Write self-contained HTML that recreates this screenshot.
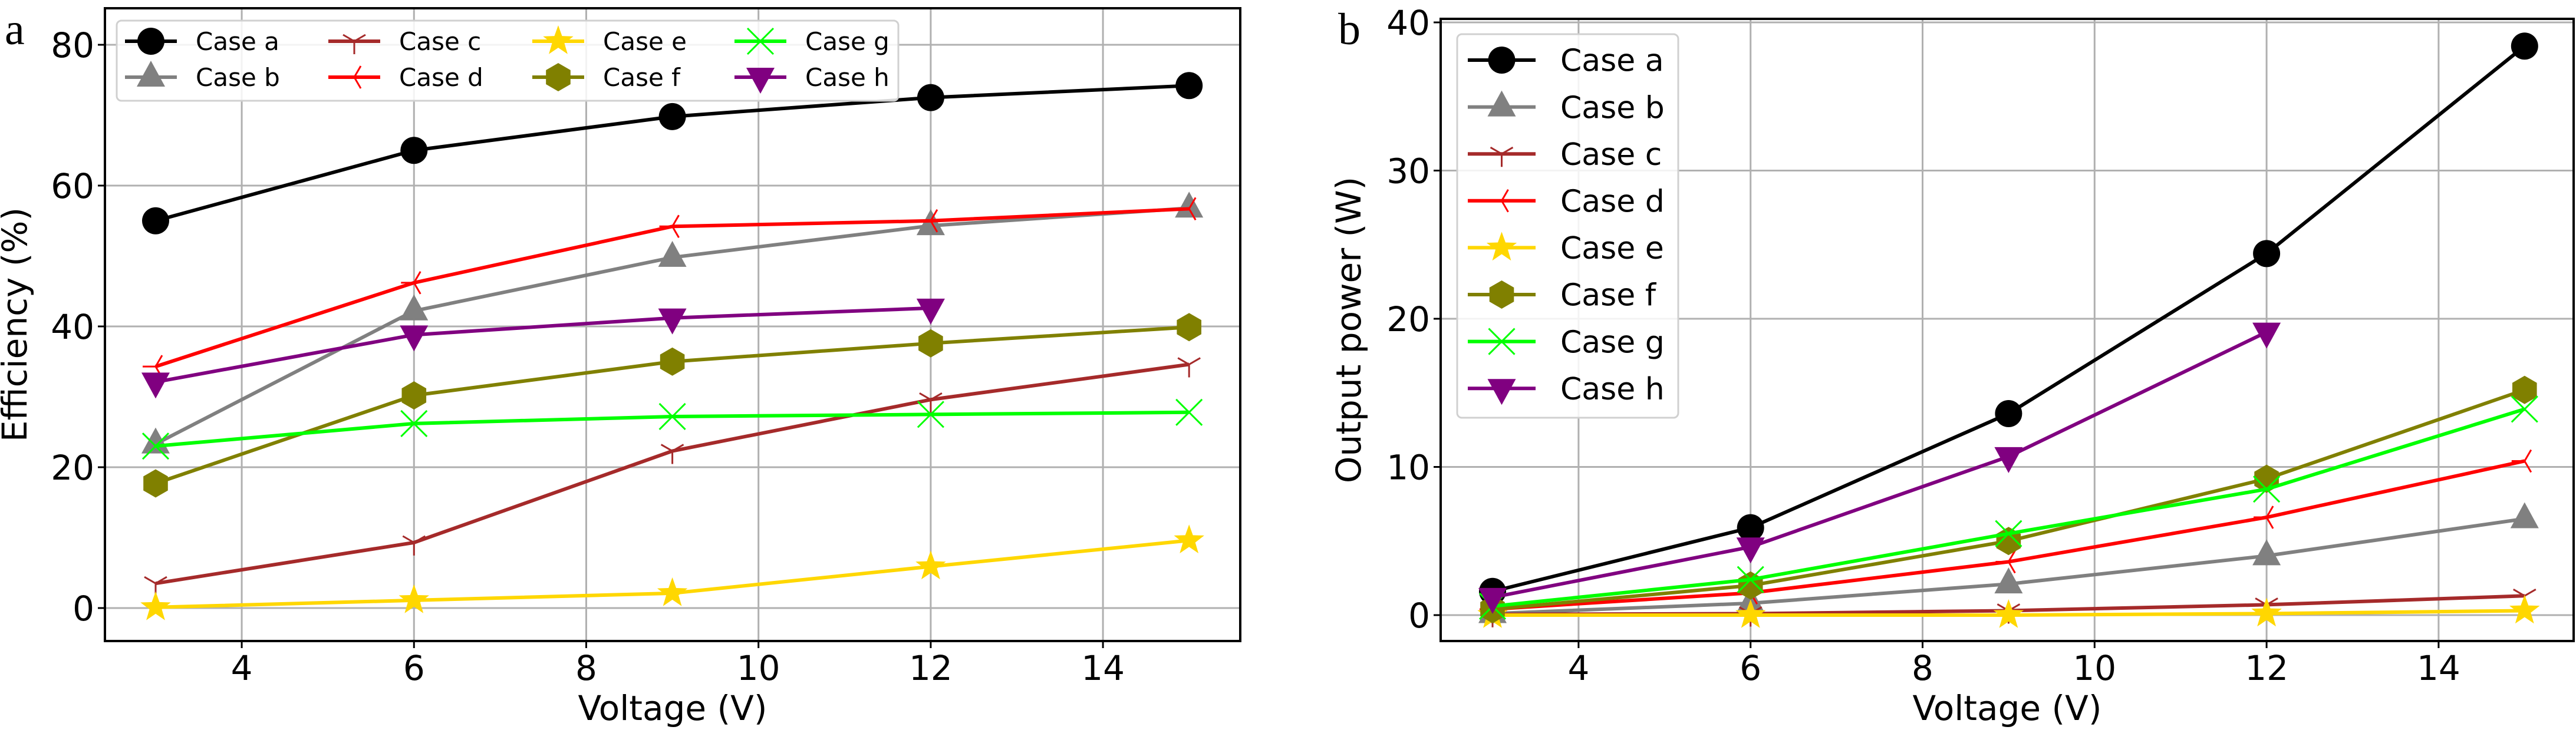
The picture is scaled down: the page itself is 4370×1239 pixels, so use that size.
<!DOCTYPE html>
<html><head><meta charset="utf-8"><style>
html,body{margin:0;padding:0;background:#fff;}
svg{display:block;}
text{font-family:"DejaVu Sans","Liberation Sans",sans-serif;}
.serif{font-family:"Liberation Serif",serif;}
</style></head><body>
<svg id="s" width="4370" height="1239" viewBox="0 0 4370 1239" xmlns="http://www.w3.org/2000/svg"></svg>
<script>
const S=document.getElementById('s');let h='';
const C={a:'#000000',b:'#808080',c:'#a52a2a',d:'#ff0000',e:'#ffd700',f:'#808000',g:'#00ff00',h:'#800080'};
function marker(k,x,y,col){
 switch(k){
 case 'a':return `<circle cx="${x}" cy="${y}" r="23" fill="${col}"/>`;
 case 'b':return `<polygon points="${x},${y-28} ${x+24},${y+16} ${x-24},${y+16}" fill="${col}"/>`;
 case 'h':return `<polygon points="${x},${y+28} ${x+24},${y-16} ${x-24},${y-16}" fill="${col}"/>`;
 case 'c':return `<path d="M${x},${y}V${y+22}M${x},${y}L${x-19},${y-11}M${x},${y}L${x+19},${y-11}" stroke="${col}" stroke-width="3" fill="none"/>`;
 case 'd':return `<path d="M${x},${y}H${x-22}M${x},${y}L${x+11},${y-19}M${x},${y}L${x+11},${y+19}" stroke="${col}" stroke-width="3" fill="none"/>`;
 case 'g':return `<path d="M${x-22},${y-22}L${x+22},${y+22}M${x-22},${y+22}L${x+22},${y-22}" stroke="${col}" stroke-width="3" fill="none"/>`;
 case 'e':{let p=[];for(let i=0;i<10;i++){let r=i%2?11:27,a=-Math.PI/2+i*Math.PI/5;p.push((x+r*Math.cos(a)).toFixed(1)+','+(y+r*Math.sin(a)).toFixed(1));}return `<polygon points="${p.join(' ')}" fill="${col}"/>`;}
 case 'f':{let p=[];for(let i=0;i<6;i++){let a=-Math.PI/2+i*Math.PI/3;p.push((x+24*Math.cos(a)).toFixed(1)+','+(y+24*Math.sin(a)).toFixed(1));}return `<polygon points="${p.join(' ')}" fill="${col}"/>`;}
 }}
function panel(o){
 const X=v=>o.x0+(v-3)*o.ux, Y=v=>o.y0-v*o.uy;
 for(let v=4;v<=14;v+=2){h+=`<line x1="${X(v)}" y1="${o.top}" x2="${X(v)}" y2="${o.bot}" stroke="#b0b0b0" stroke-width="3"/>`;
  h+=`<line x1="${X(v)}" y1="${o.bot}" x2="${X(v)}" y2="${o.bot+12}" stroke="#000" stroke-width="3"/>`;
  h+=`<text x="${X(v)}" y="${o.bot+66}" font-size="58" text-anchor="middle">${v}</text>`;}
 for(const v of o.yt){h+=`<line x1="${o.left}" y1="${Y(v)}" x2="${o.right}" y2="${Y(v)}" stroke="#b0b0b0" stroke-width="3"/>`;
  h+=`<line x1="${o.left-12}" y1="${Y(v)}" x2="${o.left}" y2="${Y(v)}" stroke="#000" stroke-width="3"/>`;
  h+=`<text x="${o.left-18}" y="${Y(v)+21}" font-size="58" text-anchor="end">${v}</text>`;}
 for(const k of 'abcdefgh'){const d=o.data[k];const pts=d.map((v,i)=>X(3+3*i)+','+Y(v)).join(' ');
  h+=`<polyline points="${pts}" fill="none" stroke="${C[k]}" stroke-width="6" stroke-linejoin="round"/>`;
  d.forEach((v,i)=>h+=marker(k,X(3+3*i),Y(v),C[k]));}
 h+=`<rect x="${o.left}" y="${o.top}" width="${o.right-o.left}" height="${o.bot-o.top}" fill="none" stroke="#000" stroke-width="4"/>`;
 h+=`<text x="${(o.left+o.right)/2}" y="1222" font-size="58" text-anchor="middle">Voltage (V)</text>`;
 h+=`<text transform="translate(${o.ylx},${(o.top+o.bot)/2}) rotate(-90)" font-size="58" text-anchor="middle">${o.ylab}</text>`;
 h+=`<text class="serif" x="${o.plx}" y="75" font-size="76">${o.pl}</text>`;
 const L=o.leg;h+=`<rect x="${L.x}" y="${L.y}" width="${L.w}" height="${L.h}" rx="8" fill="#fff" fill-opacity="0.85" stroke="#d0d0d0" stroke-width="3"/>`;
 L.pos.forEach((p,i)=>{const k='abcdefgh'[i];
  h+=`<line x1="${p[0]}" y1="${p[1]}" x2="${p[0]+L.lw}" y2="${p[1]}" stroke="${C[k]}" stroke-width="6"/>`;
  h+=marker(k,p[0]+L.lw/2,p[1],C[k]);
  h+=`<text x="${p[0]+L.tx}" y="${p[1]+L.fs*0.36}" font-size="${L.fs}">Case ${k}</text>`;});
}
const posA=[];const cols=[212,557,903,1246];
for(let i=0;i<8;i++){posA.push([cols[Math.floor(i/2)],i%2?131:70]);}
panel({x0:264,ux:146.1,y0:1032,uy:11.95,left:178,right:2104,top:14,bot:1088,yt:[0,20,40,60,80],
 ylx:45,ylab:'Efficiency (%)',plx:8,pl:'a',
 data:{a:[55,65,69.8,72.5,74.2],b:[23.3,42.2,49.8,54.3,56.8],c:[3.5,9.3,22.3,29.6,34.6],d:[34.3,46.2,54.2,55,56.7],
 e:[0.1,1.1,2.1,5.9,9.6],f:[17.7,30.2,35,37.6,39.9],g:[23,26.2,27.2,27.5,27.8],h:[32.1,38.8,41.2,42.6]},
 leg:{x:198,y:35,w:1326,h:136,pos:posA,lw:88,tx:120,fs:42}});
const posB=[];for(let i=0;i<8;i++)posB.push([2490,102+i*79.6]);
panel({x0:2532,ux:145.9,y0:1044,uy:25.15,left:2444,right:4366,top:32,bot:1088,yt:[0,10,20,30,40],
 ylx:2308,ylab:'Output power (W)',plx:2270,pl:'b',
 data:{a:[1.6,5.9,13.6,24.4,38.4],b:[0.1,0.8,2.1,4,6.5],c:[0.05,0.1,0.3,0.7,1.3],d:[0.4,1.5,3.6,6.6,10.4],
 e:[0,0,0,0.1,0.3],f:[0.4,2.0,5,9.2,15.2],g:[0.6,2.4,5.5,8.5,13.9],h:[1.2,4.6,10.7,19.1]},
 leg:{x:2472,y:58,w:375,h:651,pos:posB,lw:115,tx:157,fs:52}});
S.innerHTML=h;
</script>
</body></html>
